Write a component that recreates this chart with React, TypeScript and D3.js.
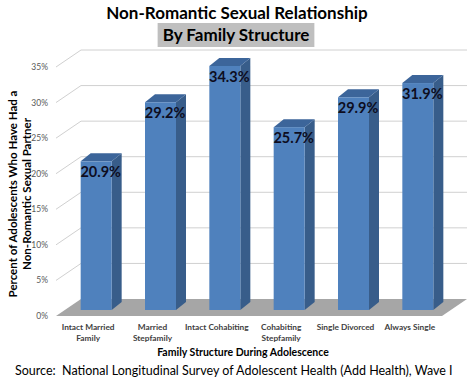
import React, { useEffect, useRef } from "react";
import * as d3 from "d3";

const categories = [
  ["Intact Married", "Family"],
  ["Married", "Stepfamily"],
  ["Intact Cohabiting"],
  ["Cohabiting", "Stepfamily"],
  ["Single Divorced"],
  ["Always Single"],
];
const values = [20.9, 29.2, 34.3, 25.7, 29.9, 31.9];
const yTicks = [0, 5, 10, 15, 20, 25, 30, 35];

const FONT = "Lato, 'Open Sans', sans-serif";

export default function App() {
  const ref = useRef<SVGSVGElement>(null);

  useEffect(() => {
    const svg = d3.select(ref.current);
    svg.selectAll("*").remove();

    const keys = categories.map((c) => c.join(" "));
    const x = d3.scaleBand<string>().domain(keys).range([56, 442]).padding(0);
    const y = d3.scaleLinear().domain([0, 35]).range([316, 67]);

    const wallDx = 25, wallDy = -17;
    const barShiftX = 8, barShiftY = -6;
    const barW = 31, barDx = 10, barDy = -8;

    // Title
    svg.append("text")
      .attr("x", 237).attr("y", 19)
      .attr("text-anchor", "middle")
      .attr("font-family", FONT).attr("font-weight", "bold")
      .attr("font-size", 17).attr("fill", "#000")
      .text("Non-Romantic Sexual Relationship");
    const boxG = svg.append("g");
    const sub = svg.append("text")
      .attr("x", 236).attr("y", 41)
      .attr("text-anchor", "middle")
      .attr("font-family", FONT).attr("font-weight", "bold")
      .attr("font-size", 17).attr("fill", "#000")
      .text("By Family Structure");
    const bb = (sub.node() as SVGTextElement).getBBox();
    boxG.append("rect")
      .attr("x", bb.x - 5).attr("y", 23)
      .attr("width", bb.width + 10).attr("height", 24)
      .attr("fill", "#bfbfbf");

    // Floor
    const fl = 56, fr = 442, fy = y(0);
    svg.append("polygon")
      .attr("points", [
        [fl, fy], [fl + wallDx, fy + wallDy], [fr + wallDx, fy + wallDy], [fr, fy],
      ].map((p) => p.join(",")).join(" "))
      .attr("fill", "#a6a6a6");

    // Gridlines (side wall + back wall)
    const grid = svg.append("g").attr("fill", "none").attr("stroke", "#d0d0d0").attr("stroke-width", 1);
    yTicks.forEach((t) => {
      if (t === 0) return;
      const yy = y(t);
      grid.append("polyline")
        .attr("points", `${fl},${yy} ${fl + wallDx},${yy + wallDy} ${fr + wallDx},${yy + wallDy}`);
    });

    // Y tick labels
    svg.append("g").selectAll("text").data(yTicks).join("text")
      .attr("x", 48).attr("y", (d) => y(d) + 3)
      .attr("text-anchor", "end")
      .attr("font-family", FONT).attr("font-size", 8.5)
      .attr("fill", "#595959")
      .text((d) => `${d}%`);

    // Bars
    const bars = svg.append("g");
    values.forEach((v, i) => {
      const cx = x(keys[i])! + x.bandwidth() / 2;
      const left = cx + barShiftX - barW / 2;
      const right = left + barW;
      const bottom = y(0) + barShiftY;
      const top = y(v) + barShiftY;
      bars.append("polygon")
        .attr("points", [[right, top], [right + barDx, top + barDy], [right + barDx, bottom + barDy], [right, bottom]]
          .map((p) => p.join(",")).join(" "))
        .attr("fill", "#385d8a");
      bars.append("polygon")
        .attr("points", [[left, top], [left + barDx, top + barDy], [right + barDx, top + barDy], [right, top]]
          .map((p) => p.join(",")).join(" "))
        .attr("fill", "#3c659a");
      bars.append("rect")
        .attr("x", left).attr("y", top)
        .attr("width", barW).attr("height", bottom - top)
        .attr("fill", "#4f81bd");
      bars.append("text")
        .attr("x", left + 20).attr("y", top + 16)
        .attr("text-anchor", "middle")
        .attr("font-family", FONT).attr("font-weight", "bold")
        .attr("font-size", 14.5).attr("fill", "#0d0d1f")
        .text(`${v.toFixed(1)}%`);
    });

    // Category labels
    const cat = svg.append("g");
    categories.forEach((lines, i) => {
      const cx = x(keys[i])! + x.bandwidth() / 2;
      lines.forEach((ln, j) => {
        cat.append("text")
          .attr("x", cx).attr("y", 330 + j * 11)
          .attr("text-anchor", "middle")
          .attr("font-family", FONT).attr("font-weight", "bold")
          .attr("font-size", 8.3).attr("fill", "#404040")
          .text(ln);
      });
    });

    // X axis title
    svg.append("text")
      .attr("x", 243).attr("y", 356)
      .attr("text-anchor", "middle")
      .attr("font-family", FONT).attr("font-weight", "bold")
      .attr("font-size", 10.5).attr("fill", "#000")
      .text("Family Structure During Adolescence");

    // Y axis title
    const yt = svg.append("text")
      .attr("transform", "translate(17,194) rotate(-90)")
      .attr("text-anchor", "middle")
      .attr("font-family", FONT).attr("font-weight", "bold")
      .attr("font-size", 11.5).attr("fill", "#000");
    yt.append("tspan").attr("x", 0).attr("y", 0).text("Percent of Adolescents Who Have Had a");
    yt.append("tspan").attr("x", 0).attr("y", 14).text("Non-Romantic Sexual Partner");

    // Source
    svg.append("text")
      .attr("x", 15).attr("y", 375)
      .attr("font-family", FONT).attr("font-size", 12.5).attr("fill", "#000")
      .attr("xml:space", "preserve")
      .text("Source:  National Longitudinal Survey of Adolescent Health (Add Health), Wave I");
  }, []);

  return (
    <svg ref={ref} width={474} height={380}
      style={{ position: "absolute", left: 0, top: 0, background: "#fff" }} />
  );
}
